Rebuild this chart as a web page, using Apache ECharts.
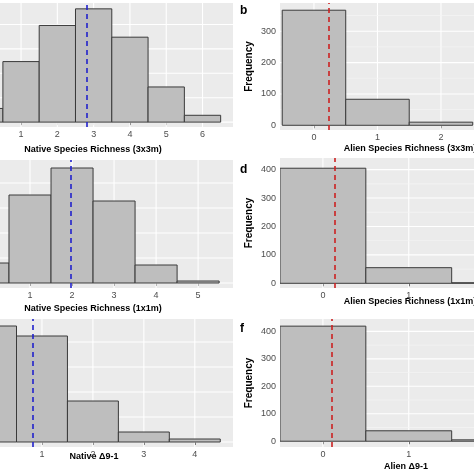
<!DOCTYPE html>
<html><head><meta charset="utf-8">
<script src="https://cdn.jsdelivr.net/npm/echarts@6/dist/echarts.min.js"></script>
<style>html,body{margin:0;padding:0;background:#fff}#c{width:474px;height:474px}</style>
</head><body><div id="c"></div>
<script>
// bins (x value) and counts for each panel
var nat3Bins = [0, 1, 2, 3, 4, 5, 6];
var nat3Vals = [14, 62, 99, 116, 87, 36, 7];
var ali3Bins = [0, 1, 2];
var ali3Vals = [367, 83, 10];
var nat1Bins = [0, 1, 2, 3, 4, 5];
var nat1Vals = [20, 88, 115, 82, 18, 2];
var ali1Bins = [0, 1, 2];
var ali1Vals = [405, 55, 2];
var natDBins = [0, 1, 2, 3, 4];
var natDVals = [116, 106, 41, 10, 3];
var aliDBins = [0, 1, 2];
var aliDVals = [419, 38, 5];
var means = [2.8, 0.225, 1.98, 0.135, 0.82, 0.1];
var xNames = ['Native Species Richness (3x3m)', 'Alien Species Richness (3x3m)',
  'Native Species Richness (1x1m)', 'Alien Species Richness (1x1m)',
  'Native \u03949-1', 'Alien \u03949-1'];
var freqTicks = [0, 100, 200, 300, 400];
var leftGridY = [0, 25, 50, 75, 100];

var chart = echarts.init(document.getElementById('c'));

var panels = [
  {bins: nat3Bins, vals: nat3Vals, left: 0, top: 3, h: 124, xmin: 0.42, xmax: 6.84, ymin: -5, ymax: 122, xt: [1,2,3,4,5,6], right: false},
  {bins: ali3Bins, vals: ali3Vals, left: 280, top: 3, h: 127, xmin: -0.535, xmax: 2.52, ymin: -15, ymax: 390, xt: [0,1,2], right: true},
  {bins: nat1Bins, vals: nat1Vals, left: 0, top: 160, h: 128, xmin: 0.286, xmax: 5.83, ymin: -5, ymax: 123, xt: [1,2,3,4,5], right: false},
  {bins: ali1Bins, vals: ali1Vals, left: 280, top: 158, h: 130, xmin: -0.5, xmax: 1.76, ymin: -16.5, ymax: 441, xt: [0,1], right: true},
  {bins: natDBins, vals: natDVals, left: 0, top: 319, h: 128, xmin: 0.176, xmax: 4.75, ymin: -5, ymax: 123, xt: [1,2,3,4], right: false},
  {bins: aliDBins, vals: aliDVals, left: 280, top: 319, h: 128, xmin: -0.5, xmax: 1.76, ymin: -21, ymax: 445, xt: [0,1], right: true}
];
var namePos = [[93,150],[410,149],[93,309],[410,302],[94,457],[406,467]];
var letters = [['b',240,11],['d',240,170],['f',240,329]];

var grids = [], xAxes = [], yAxes = [], series = [], graphics = [];
panels.forEach(function(p, i){
  var w = p.right ? 194 : 233;
  var yt = p.right ? freqTicks.filter(function(v){ return v <= p.ymax; }) : leftGridY;
  var ym = [];
  if (p.right) yt.forEach(function(v){ if (v + 50 < p.ymax) ym.push(v + 50); });
  grids.push({left: p.left, top: p.top, width: w, height: p.h, show: true, backgroundColor: '#EBEBEB', borderWidth: 0});
  xAxes.push({type: 'value', gridIndex: i, min: p.xmin, max: p.xmax,
    axisLine: {show: false},
    axisTick: {show: true, length: 3, lineStyle: {color: '#333'}, customValues: p.xt},
    axisLabel: {color: '#4d4d4d', fontSize: 9, margin: 3, customValues: p.xt},
    splitLine: {show: false}
  });
  yAxes.push({type: 'value', gridIndex: i, min: p.ymin, max: p.ymax,
    name: p.right ? 'Frequency' : '', nameLocation: 'middle', nameGap: 26,
    nameTextStyle: {fontSize: 10, fontWeight: 'bold', color: '#000'},
    axisLine: {show: false},
    axisTick: p.right ? {show: true, length: 3, lineStyle: {color: '#333'}, customValues: yt} : {show: false},
    axisLabel: p.right ? {show: true, color: '#4d4d4d', fontSize: 9, margin: 4, customValues: yt} : {show: false},
    splitLine: {show: false}
  });
  // gridlines: major at ticks, minor at halves
  var lines = [];
  p.xt.forEach(function(v){ lines.push([0, v, 1]); });
  yt.forEach(function(v){ lines.push([1, v, 1]); });
  ym.forEach(function(v){ lines.push([1, v, 0.5]); });
  series.push({type: 'custom', xAxisIndex: i, yAxisIndex: i, clip: true, z: 1, silent: true,
    data: lines,
    renderItem: function(params, api){
      var k = api.value(0), v = api.value(1), wd = api.value(2);
      var a, b;
      if (k === 0) { a = api.coord([v, p.ymin]); b = api.coord([v, p.ymax]); }
      else { a = api.coord([p.xmin, v]); b = api.coord([p.xmax, v]); }
      return {type: 'line', shape: {x1: a[0], y1: a[1], x2: b[0], y2: b[1]},
        style: {stroke: wd < 1 ? '#F5F5F5' : '#FFFFFF', lineWidth: wd < 1 ? 0.7 : 1.1}};
    }
  });
  series.push({type: 'custom', xAxisIndex: i, yAxisIndex: i, clip: true, z: 2,
    data: p.bins.map(function(b, k){ return [b, p.vals[k]]; }),
    renderItem: function(params, api){
      var x = api.value(0), y = api.value(1);
      var a = api.coord([x - 0.5, y]);
      var b = api.coord([x + 0.5, 0]);
      return {type: 'rect', shape: {x: a[0], y: a[1], width: b[0] - a[0], height: b[1] - a[1]},
        style: {fill: '#BEBEBE', stroke: '#3a3a3a', lineWidth: 1}};
    },
    markLine: {symbol: 'none', silent: true, label: {show: false},
      lineStyle: {type: [5, 4], width: 1.6, color: p.right ? '#CC2222' : '#2222CC'},
      data: [{xAxis: means[i]}]}
  });
  graphics.push({type: 'text', x: namePos[i][0], y: namePos[i][1], style: {
    text: xNames[i], fontSize: 9, fontWeight: 'bold', fill: '#000', align: 'center', verticalAlign: 'middle'}});
});
letters.forEach(function(l){
  graphics.push({type: 'text', x: l[1], y: l[2], style: {text: l[0], fontSize: 12, fontWeight: 'bold', fill: '#000', verticalAlign: 'middle'}});
});

chart.setOption({
  animation: false,
  textStyle: {fontFamily: 'Liberation Sans, Arial, sans-serif'},
  grid: grids, xAxis: xAxes, yAxis: yAxes, series: series, graphic: graphics
});
</script>
</body></html>
